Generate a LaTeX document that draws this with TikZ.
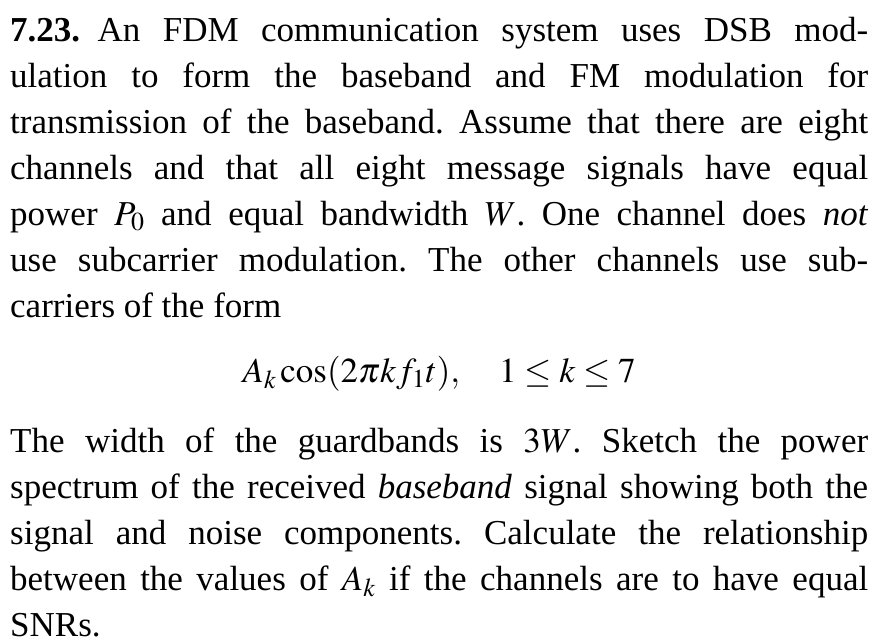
\documentclass[tikz,border=0pt]{standalone}
\usepackage{mathptmx}
\usepackage[no-math]{fontspec}
\setmainfont{Liberation Serif}
\begin{document}
\begin{tikzpicture}[x=1pt,y=1pt]
\useasboundingbox (0,0) rectangle (878,-643);
\node[anchor=north west,inner sep=0pt,text width=858pt,align=justify,font=\fontsize{35}{46}\selectfont\frenchspacing] (txt) at (10,-17) {%
\textbf{7.23.}\enspace An FDM communication system uses DSB mod-\linebreak
ulation to form the baseband and FM modulation for\linebreak
transmission of the baseband. Assume that there are eight\linebreak
channels and that all eight message signals have equal\linebreak
power $P_0$ and equal bandwidth $W$. One channel does \textit{not}\linebreak
use subcarrier modulation. The other channels use sub-\linebreak
carriers of the form\par
\vspace{19pt}
{\centering $A_k\cos(2\pi k f_1 t),\quad 1\le k\le 7$\par}
\vspace{24pt}
The width of the guardbands is $3W$. Sketch the power\linebreak
spectrum of the received \textit{baseband} signal showing both the\linebreak
signal and noise components. Calculate the relationship\linebreak
between the values of $A_k$ if the channels are to have equal\linebreak
SNRs.\par};
\end{tikzpicture}
\end{document}
